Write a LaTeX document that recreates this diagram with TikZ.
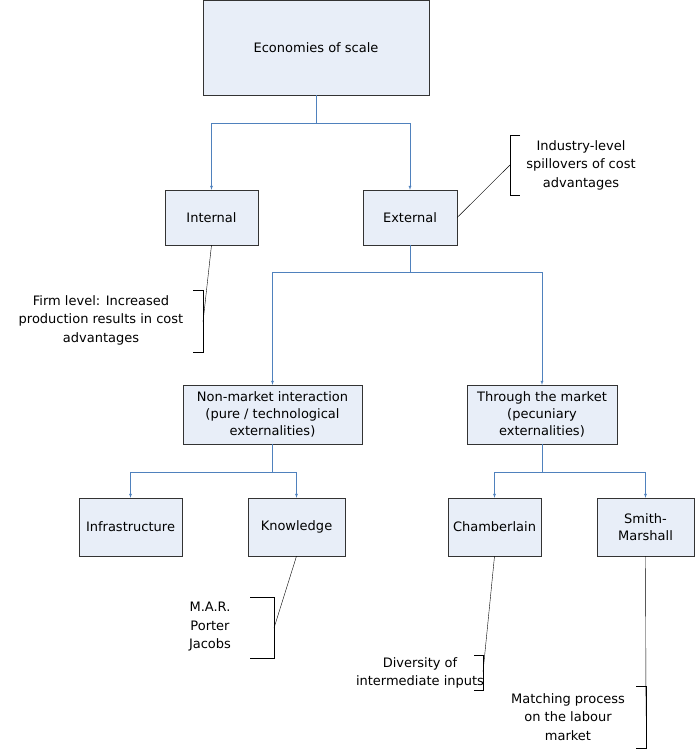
\documentclass[tikz,border=0pt]{standalone}
\usepackage{fontspec}
\setmainfont{DejaVu Sans}
\definecolor{boxfill}{HTML}{E8EEF8}
\definecolor{linkblue}{HTML}{4F81BD}
\tikzset{
  box/.style={shape=rectangle, draw=black!80, fill=boxfill, align=center, font=\fontsize{13}{17}\selectfont},
  link/.style={draw=linkblue, -{latex[scale=1.3]}},
  note/.style={align=center, font=\fontsize{13}{18.5}\selectfont},
}
\usetikzlibrary{arrows.meta}
\begin{document}
\begin{tikzpicture}[x=1pt, y=-1pt]
\useasboundingbox (0,0) rectangle (695,751);
\node [box, minimum width=226pt, minimum height=95pt] (Eco) at (316,47.5) {Economies of scale};
\node [box, minimum width=93pt, minimum height=55pt] (Int) at (211.5,217.5) {Internal};
\node [box, minimum width=94pt, minimum height=55pt] (Ext) at (410,217.5) {External};
\node [box, minimum width=179pt, minimum height=59pt, inner sep=1pt] (Non) at (272.5,414.5) {Non-market interaction\\(pure / technological\\externalities)};
\node [box, minimum width=150pt, minimum height=59pt, inner sep=1pt] (Mkt) at (542,414.5) {Through the market\\(pecuniary\\externalities)};
\node [box, minimum width=103pt, minimum height=58pt] (Inf) at (130.5,527) {Infrastructure};
\node [box, minimum width=97pt, minimum height=58pt] (Know) at (296.5,527) {Knowledge};
\node [box, minimum width=93pt, minimum height=58pt] (Cham) at (494.5,527) {Chamberlain};
\node [box, minimum width=97pt, minimum height=58pt] (Smith) at (645.5,527) {Smith-\\Marshall};

\draw [link] (Eco.south) -- ++(0,28) -| (Int.north);
\draw [link] (Eco.south) -- ++(0,28) -| (Ext.north);
\draw [link] (Ext.south) -- ++(0,27) -| (Non.north);
\draw [link] (Ext.south) -- ++(0,27) -| (Mkt.north);
\draw [link] (Non.south) -- ++(0,28) -| (Inf.north);
\draw [link] (Non.south) -- ++(0,28) -| (Know.north);
\draw [link] (Mkt.south) -- ++(0,28) -| (Cham.north);
\draw [link] (Mkt.south) -- ++(0,28) -| (Smith.north);

% notes
\node [note] (NInd) at (581,165) {Industry-level\\spillovers of cost\\advantages};
\draw (Ext.east) -- (510,165);
\draw (520,135) -- (510,135) -- (510,195) -- (520,195);

\node [note] (NFirm) at (101,320) {Firm level: Increased\\production results in cost\\advantages};
\draw (Int.south) -- (203,322);
\draw (193,290) -- (203,290) -- (203,352) -- (193,352);

\node [note] (NKnow) at (210,627) {M.A.R.\\Porter\\Jacobs};
\draw (Know.south) -- (274,628);
\draw (250,597) -- (274,597) -- (274,658) -- (250,658);

\node [note] (NCham) at (420,673) {Diversity of\\intermediate inputs};
\draw (Cham.south) -- (483,672);
\draw (474,655) -- (483,655) -- (483,690) -- (474,690);

\node [note] (NSmith) at (568,717) {Matching process\\on the labour\\market};
\draw (Smith.south) -- (646,716);
\draw (636,686) -- (646,686) -- (646,748) -- (636,748);
\end{tikzpicture}
\end{document}
